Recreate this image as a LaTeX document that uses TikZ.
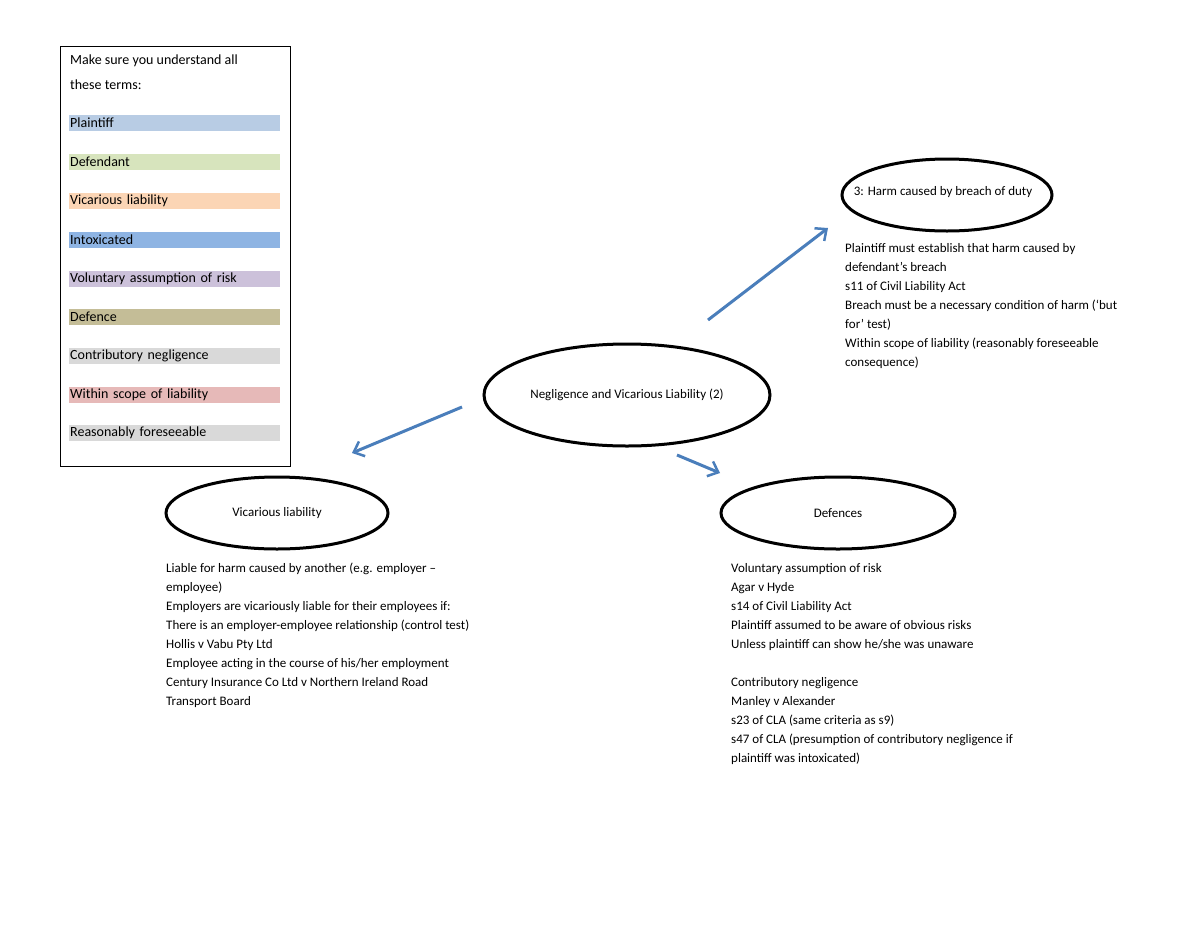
\documentclass[tikz,border=0pt]{standalone}
\usepackage{fontspec}
\setmainfont{Carlito}
\usetikzlibrary{arrows.meta}
\definecolor{arr}{HTML}{4A7EBB}
\definecolor{cP}{HTML}{B8CCE4}\definecolor{cD}{HTML}{D7E4BD}\definecolor{cV}{HTML}{FBD5B5}
\definecolor{cI}{HTML}{8EB4E3}\definecolor{cVo}{HTML}{CCC1DA}\definecolor{cDe}{HTML}{C4BD97}
\definecolor{cG}{HTML}{D9D9D9}\definecolor{cW}{HTML}{E6B9B8}
\begin{document}
\begin{tikzpicture}[x=1pt,y=-1pt,
  ell/.style={draw,line width=3pt,ellipse,inner sep=0pt},
  conn/.style={draw=arr,line width=3pt,-{Straight Barb[length=9pt,width=16pt,line width=2.5pt]}},
  body/.style={align=left,anchor=north west,inner sep=0pt,font=\fontsize{13}{19}\selectfont},
  bar/.style={anchor=west,minimum width=211pt,minimum height=16pt,inner sep=1pt,text width=209pt,align=left,font=\fontsize{14}{16}\selectfont}]
\useasboundingbox (0,0) rectangle (1200,927);
\shade[use as bounding box] (0,0) rectangle (1200,927);
\fill[white] (0,0) rectangle (1200,927);
% legend
\node[draw,line width=1pt,minimum width=230pt,minimum height=420pt,anchor=north west,inner sep=0pt] (leg) at (60,46) {};
\node[body,font=\fontsize{14}{25}\selectfont] (lt) at (70,55) {Make sure you understand all\\these terms:};
\node[bar,fill=cP] (b1) at (69,123) {Plaintiff};
\node[bar,fill=cD] (b2) at (69,162) {Defendant};
\node[bar,fill=cV] (b3) at (69,201) {Vicarious liability};
\node[bar,fill=cI] (b4) at (69,240) {Intoxicated};
\node[bar,fill=cVo] (b5) at (69,279) {Voluntary assumption of risk};
\node[bar,fill=cDe] (b6) at (69,317) {Defence};
\node[bar,fill=cG] (b7) at (69,356) {Contributory negligence};
\node[bar,fill=cW] (b8) at (69,395) {Within scope of liability};
\node[bar,fill=cG] (b9) at (69,433) {Reasonably foreseeable};
% ellipses
\draw[line width=3pt] (627,395) ellipse [x radius=143, y radius=51];
\node[font=\fontsize{13}{15}\selectfont] (main) at (627,395) {Negligence and Vicarious Liability (2)};
\draw[line width=3pt] (947,195) ellipse [x radius=105, y radius=36];
\node[font=\fontsize{13}{15}\selectfont] (harm) at (943,192) {3: Harm caused by breach of duty};
\draw[line width=3pt] (277,513) ellipse [x radius=111, y radius=36];
\node[font=\fontsize{13}{15}\selectfont] (vic) at (277,513) {Vicarious liability};
\draw[line width=3pt] (838,513) ellipse [x radius=117, y radius=36];
\node[font=\fontsize{13}{15}\selectfont] (def) at (838,513) {Defences};
% arrows
\coordinate (a1s) at (708,320); \coordinate (a1e) at (828,228);
\coordinate (a2s) at (462,407); \coordinate (a2e) at (352,453);
\coordinate (a3s) at (677,455); \coordinate (a3e) at (720,473);
\draw[conn] (a1s) -- (a1e);
\draw[conn] (a2s) -- (a2e);
\draw[conn] (a3s) -- (a3e);
% texts
\node[body] (th) at (845,243) {Plaintiff must establish that harm caused by\\defendant’s breach\\s11 of Civil Liability Act\\Breach must be a necessary condition of harm (‘but\\for’ test)\\Within scope of liability (reasonably foreseeable\\consequence)};
\node[body] (tv) at (166,563) {Liable for harm caused by another (e.g. employer –\\employee)\\Employers are vicariously liable for their employees if:\\There is an employer-employee relationship (control test)\\Hollis v Vabu Pty Ltd\\Employee acting in the course of his/her employment\\Century Insurance Co Ltd v Northern Ireland Road\\Transport Board};
\node[body] (td) at (731,563) {Voluntary assumption of risk\\Agar v Hyde\\s14 of Civil Liability Act\\Plaintiff assumed to be aware of obvious risks\\Unless plaintiff can show he/she was unaware\\[19pt]Contributory negligence\\Manley v Alexander\\s23 of CLA (same criteria as s9)\\s47 of CLA (presumption of contributory negligence if\\plaintiff was intoxicated)};
\end{tikzpicture}
\end{document}
